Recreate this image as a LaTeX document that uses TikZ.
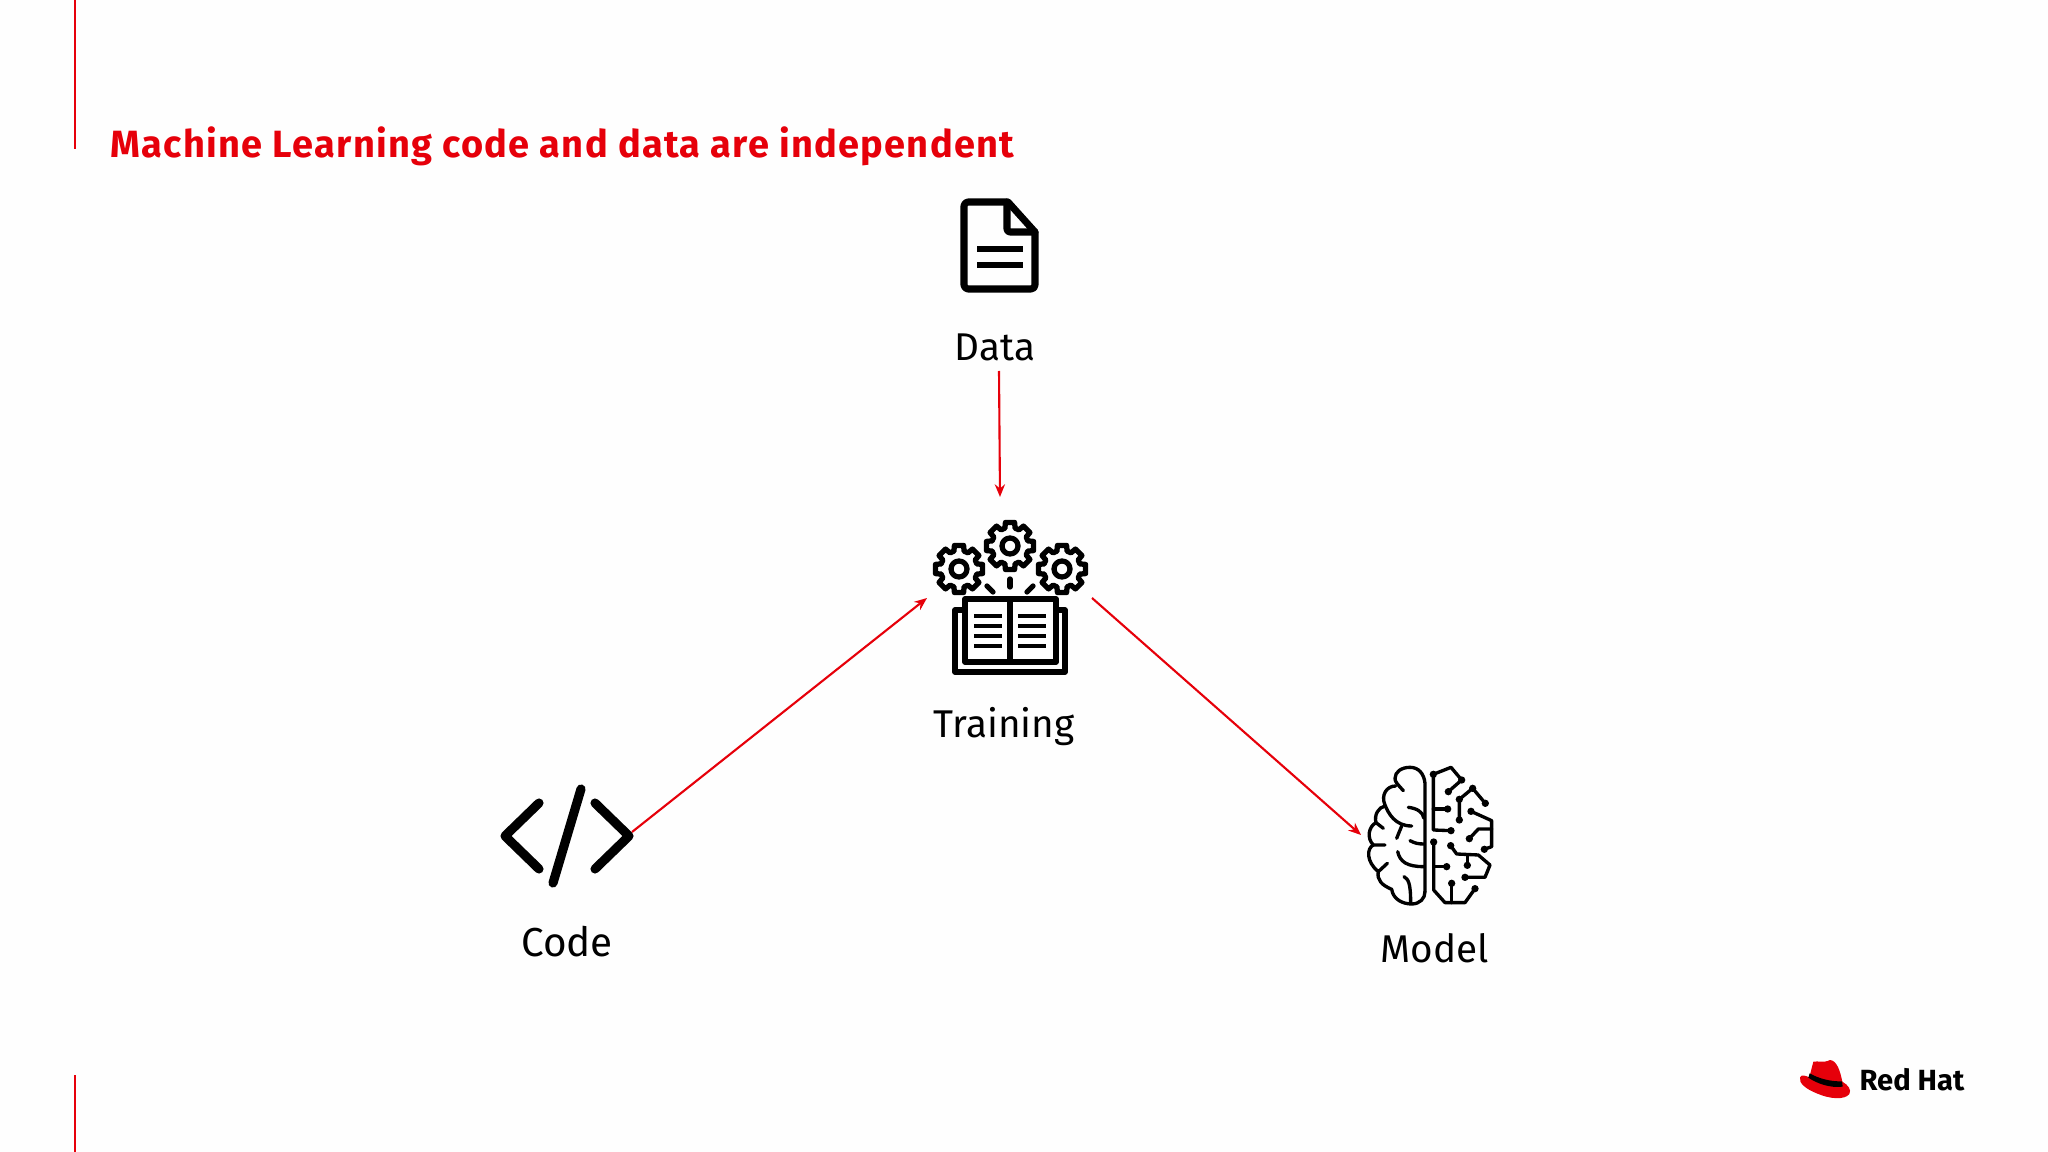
\documentclass[tikz,border=0pt]{standalone}
\usepackage{fontspec}
\setmainfont{Fira Sans}
\usetikzlibrary{arrows.meta}
\definecolor{rhred}{RGB}{230,0,10}
\definecolor{paper}{RGB}{254,254,254}
\def\gearwheel(#1,#2){
	\begin{scope}[shift={(#1, #2)}]
		\draw[gearline] (79:24) \foreach \a in {0, 45, ..., 315} {-- ({\a+101}:24) -- ({\a+106}:18.5) -- ({\a+119}:18.5) -- ({\a+124}:24)} -- cycle;
		\draw[gearline] (0, 0) circle (8);
	\end{scope}
}
\tikzset{
	flow/.style={rhred, line width=0.6pt, -{Stealth[length=3.6pt, width=2.9pt]}},
	iconline/.style={black, line width=2pt, line cap=round, line join=round},
	gearline/.style={black, line width=1.5pt, line join=round},
	thinline/.style={black, line width=1.5pt, line cap=round, line join=round},
	brainline/.style={black, line width=0.95pt, line cap=round, line join=round},
	rule/.style={rhred, line width=0.55pt},
	label/.style={inner sep=0pt, font=\fontsize{11pt}{13pt}\selectfont},
	headline/.style={inner sep=0pt, anchor=west, text=rhred, font=\fontsize{10.8pt}{13pt}\selectfont\bfseries\addfontfeatures{LetterSpace=3.3}},
}
\begin{document}
\begin{tikzpicture}[x=0.01cm, y=-0.01cm]
	%%%%% START %%%%%
	\fill[paper] (0, 0) rectangle (2048, 1152);
	\useasboundingbox (0, 0) rectangle (2048, 1152);

	\draw[rule] (75, 0) -- (75, 149);
	\draw[rule] (75, 1075) -- (75, 1152);
	\node[headline] (headline) at (110, 146) {Machine Learning code and data are independent};

	% data icon
	\draw[iconline] (1007, 202) -- (968, 202) to[out=180, in=90] (964, 206) -- (964, 285) to[out=-90, in=180] (968, 289) -- (1031, 289) to[out=0, in=-90] (1035, 285) -- (1035, 232) -- (1008, 202);
	\draw[iconline] (1007, 202) -- (1007, 229) to[out=-90, in=180] (1010, 232) -- (1035, 232);
	\draw[iconline, line width=1.9pt, line cap=butt] (977, 249) -- (1023, 249);
	\draw[iconline, line width=1.9pt, line cap=butt] (977, 265) -- (1023, 265);
	\node[label] (data) at (995, 347) {Data};

	% training icon
	\gearwheel(959, 569)
	\gearwheel(1010, 546)
	\gearwheel(1062, 569)
	\draw[thinline] (1010, 579) -- (1010, 587);
	\draw[thinline] (987, 586) -- (993, 592);
	\draw[thinline] (1033, 586) -- (1027, 592);
	\draw[thinline] (965, 599) rectangle (1056, 662);
	\draw[thinline] (1010, 599) -- (1010, 662);
	\draw[thinline] (965, 610) -- (955, 610) -- (955, 672) -- (1065, 672) -- (1065, 610) -- (1056, 610);
	\foreach \ypos in {616, 626, 636, 646} {
		\draw[black, line width=1.4pt] (974, \ypos) -- (1002, \ypos);
		\draw[black, line width=1.4pt] (1018, \ypos) -- (1046, \ypos);
	}
	\node[label] (training) at (1004, 727) {Training};

	% code icon
	\draw[iconline, line width=2.6pt] (539, 803) -- (505, 836) -- (539, 869);
	\draw[iconline, line width=2.6pt] (595, 803) -- (629, 836) -- (595, 869);
	\draw[iconline, line width=2.6pt] (581, 789) -- (553, 883);
	\node[label, font=\fontsize{11.5pt}{13pt}\selectfont] (code) at (567, 942) {Code};

	% model icon, traced at 3x
	\begin{scope}[shift={(1350, 750)}, scale=0.3333]
		\draw[brainline] (225, 425) -- (225, 100) .. controls (222, 70) and (205, 52) .. (180, 52) .. controls (155, 52) and (135, 65) .. (135, 85) .. controls (135, 95) and (140, 100) .. (160, 122);
		\draw[brainline] (137, 108) .. controls (110, 108) and (92, 135) .. (105, 165) .. controls (115, 190) and (135, 228) .. (185, 228);
		\draw[brainline] (105, 168) .. controls (85, 172) and (72, 195) .. (78, 218) -- (100, 235);
		\draw[brainline] (78, 218) .. controls (55, 230) and (50, 265) .. (70, 285) -- (105, 285);
		\draw[brainline] (70, 285) .. controls (50, 295) and (48, 335) .. (85, 365) -- (112, 340);
		\draw[brainline] (85, 365) .. controls (80, 390) and (95, 405) .. (125, 418) .. controls (130, 450) and (160, 462) .. (185, 462) .. controls (210, 462) and (225, 445) .. (225, 425);
		\draw[brainline] (175, 172) .. controls (200, 175) and (218, 185) .. (222, 205);
		\draw[brainline] (155, 228) -- (140, 265);
		\draw[brainline] (180, 272) .. controls (195, 280) and (205, 282) .. (222, 282);
		\draw[brainline] (143, 305) .. controls (150, 335) and (170, 350) .. (222, 350);
		\draw[brainline] (162, 380) .. controls (175, 388) and (182, 398) .. (182, 460);
		% circuit half
		\draw[brainline] (295, 125) -- (335, 90) -- (303, 52) -- (250, 73) -- (250, 240) -- (303, 242);
		\draw[brainline] (250, 177) -- (293, 177);
		\draw[brainline] (328, 210) -- (328, 148) -- (368, 115) -- (406, 160);
		\draw[brainline] (363, 184) -- (425, 212) -- (425, 290) -- (403, 298);
		\draw[brainline] (425, 237) -- (385, 237) -- (358, 266);
		\draw[brainline] (251, 276) -- (251, 420) -- (285, 458) -- (345, 458) -- (375, 416);
		\draw[brainline] (251, 350) -- (290, 350);
		\draw[brainline] (305, 400) -- (305, 458);
		\draw[brainline] (302, 287) -- (320, 312) -- (385, 315) -- (420, 345) -- (405, 382) -- (345, 382);
		\draw[brainline] (352, 315) -- (352, 346);
		\foreach \xpos/\ypos in {250/73, 335/90, 295/125, 293/177, 303/242, 328/148, 328/210, 368/115, 406/160, 363/184, 358/266, 403/298, 251/276, 302/287, 290/350, 352/346, 345/382, 305/400, 375/416} {
			\fill (\xpos, \ypos) circle (11);
		}
	\end{scope}
	\node[label] (model) at (1435, 948) {Model};

	% connectors
	\coordinate (dataout) at (999, 371);
	\coordinate (trainin) at (1000, 497);
	\coordinate (codeout) at (632, 832);
	\coordinate (trainleft) at (927, 598);
	\coordinate (trainright) at (1092, 598);
	\coordinate (modelin) at (1361, 835);
	\draw[flow] (dataout) -- (trainin);
	\draw[flow] (codeout) -- (trainleft);
	\draw[flow] (trainright) -- (modelin);

	% logo, traced at 3x
	\begin{scope}[shift={(1780, 1040)}, scale=0.3333]
		\fill[rhred] (100, 65) .. controls (115, 62) and (130, 70) .. (150, 60) .. controls (170, 62) and (180, 90) .. (187, 125) .. controls (205, 135) and (215, 150) .. (208, 162) .. controls (195, 180) and (150, 178) .. (110, 160) .. controls (80, 148) and (55, 130) .. (60, 112) .. controls (65, 102) and (78, 108) .. (88, 112) -- cycle;
		\fill[black] (89, 100) .. controls (115, 115) and (150, 125) .. (186, 124) -- (188, 140) .. controls (150, 145) and (110, 130) .. (85, 113) -- cycle;
	\end{scope}
	\node[inner sep=0pt, font=\fontsize{8.3pt}{9pt}\selectfont\bfseries] (redhat) at (1912, 1080) {Red Hat};
	%%%%% END %%%%%
\end{tikzpicture}
\end{document}
